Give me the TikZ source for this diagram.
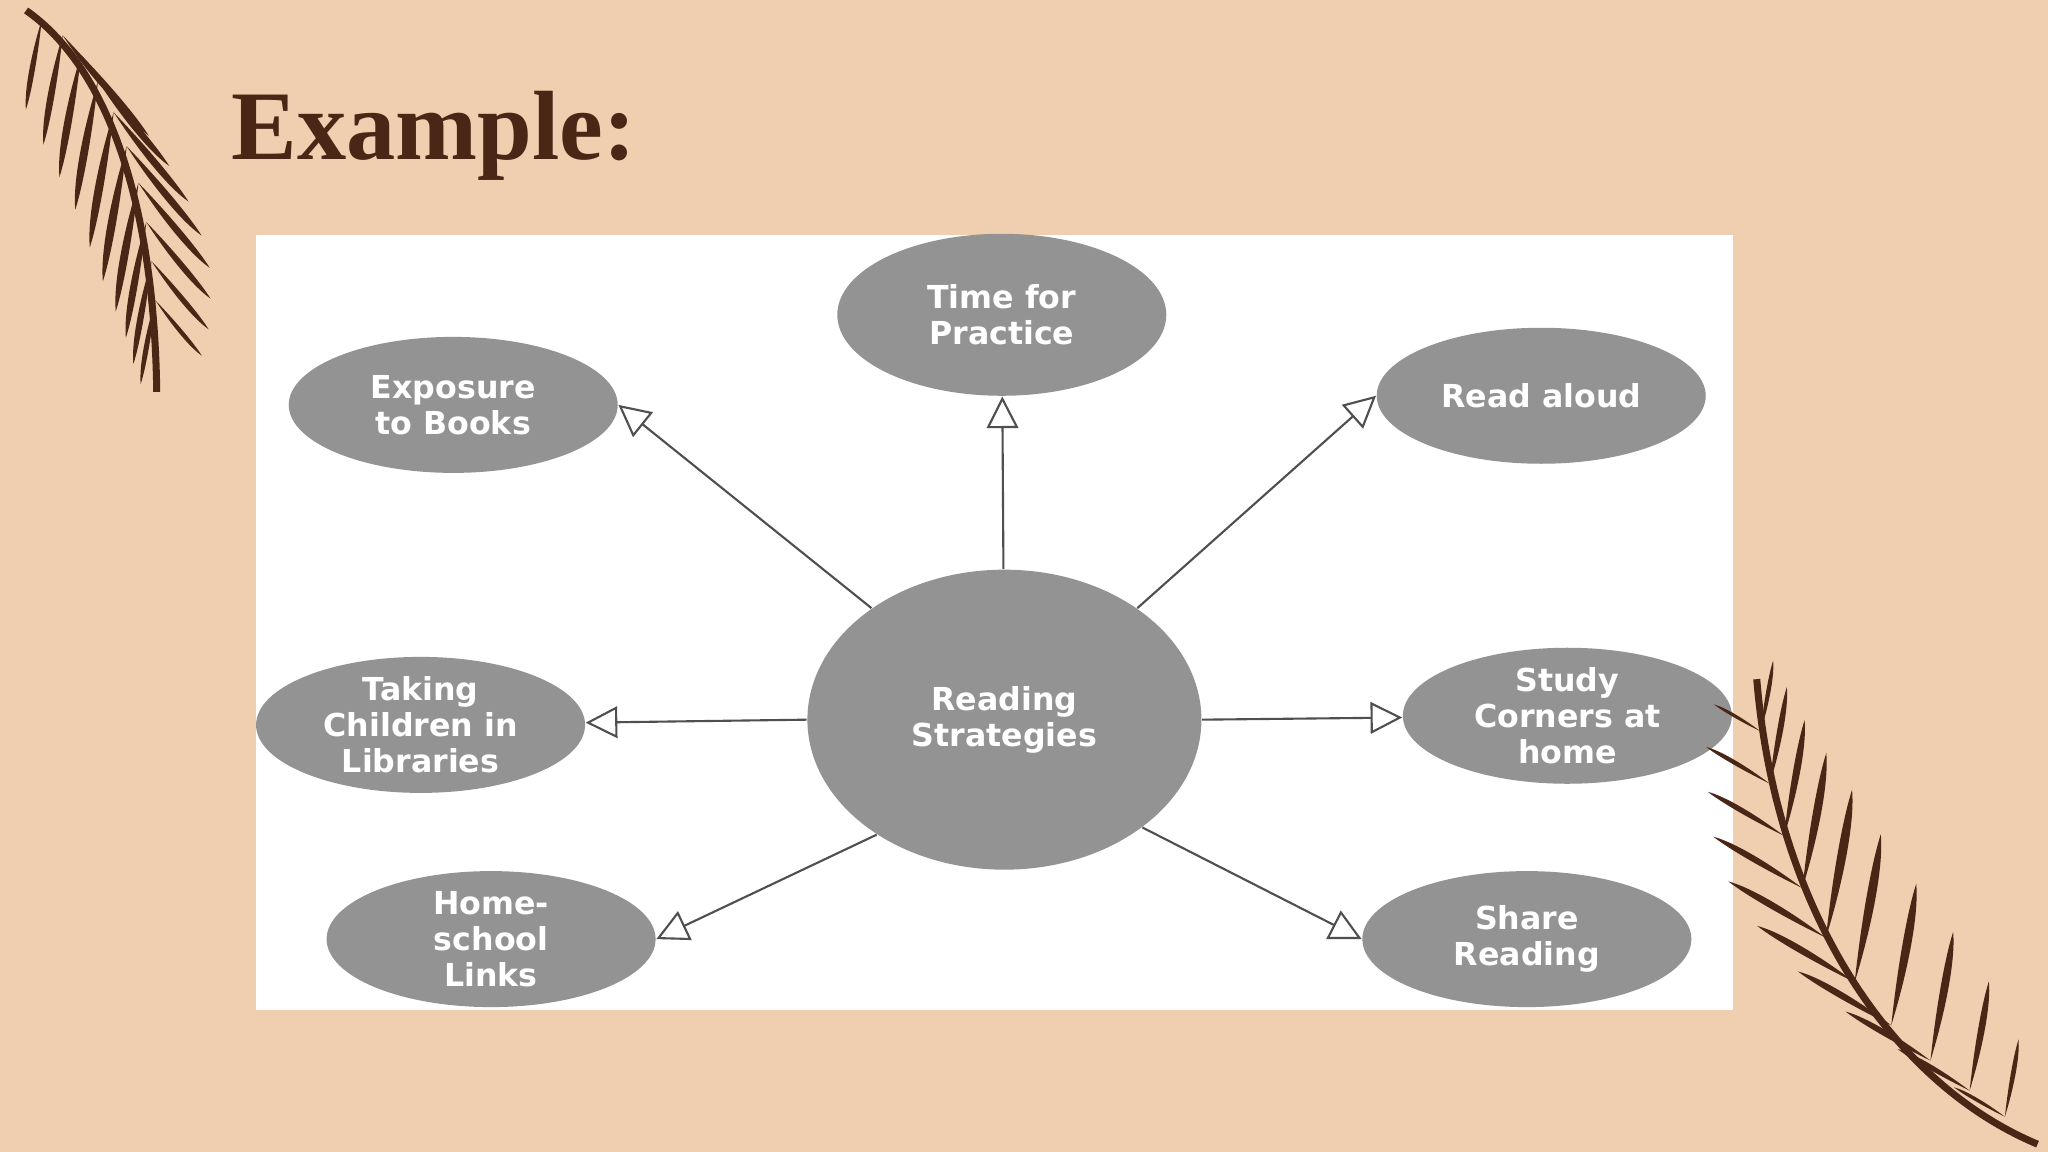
\documentclass[tikz,border=0pt]{standalone}
\usepackage{fontspec}
\setmainfont{Liberation Serif}
\newfontfamily\boxfont{DejaVu Sans}
\usetikzlibrary{shapes.geometric,arrows.meta,calc}
\definecolor{bgc}{HTML}{EFCFAF}
\definecolor{brownc}{HTML}{4A2616}
\definecolor{bubble}{HTML}{939393}
\definecolor{linec}{HTML}{4F4F4F}
\newcommand\leafat[3]{%
  \pgfmathsetmacro\lA{0.4*#3}\pgfmathsetmacro\lB{0.8*#3}\pgfmathsetmacro\lC{#3}%
  \fill[brownc] (#1) .. controls ($(#1)+(#2+7:\lA)$) and ($(#1)+(#2+4:\lB)$) .. ($(#1)+(#2:\lC)$)
     .. controls ($(#1)+(#2-2:\lB)$) and ($(#1)+(#2-4:\lA)$) .. (#1);}
\begin{document}
\begin{tikzpicture}[x=0.01306cm,y=-0.01306cm,
  bub/.style={ellipse, fill=bubble, text=white, font=\boxfont\bfseries\fontsize{9}{10.2}\selectfont, align=center, inner sep=0pt, minimum width=3.29cm, minimum height=1.36cm},
  arr/.style={draw=linec, line width=0.6pt, -{Triangle[open, length=9pt, width=9pt]}}]
\useasboundingbox (0,0) rectangle (1568,882);
\fill[bgc] (0,0) rectangle (1568,882);
\node[anchor=west, text=brownc, font=\bfseries\fontsize{28}{32}\selectfont] (title) at (168,104) {Example:};
\fill[white] (196,180) rectangle (1327,773);
\node[bub, minimum width=3.94cm, minimum height=3.0cm] (c) at (769,551) {Reading\\Strategies};
\node[bub, minimum height=1.62cm] (t) at (767,241) {Time for\\Practice};
\node[bub] (e) at (347,310) {Exposure\\to Books};
\node[bub] (r) at (1180,303) {Read aloud};
\node[bub] (l) at (322,555) {Taking\\Children in\\Libraries};
\node[bub] (s) at (1200,548) {Study\\Corners at\\home};
\node[bub] (h) at (376,719) {Home-\\school\\Links};
\node[bub] (sh) at (1169,719) {Share\\Reading};
\draw[arr] (c) -- (t);
\draw[arr] (c.140) -- (e.east);
\draw[arr] (c.40) -- (r.west);
\draw[arr] (c.180) -- (l);
\draw[arr] (c.0) -- (s);
\draw[arr] (c.222) -- (h.east);
\draw[arr] (c.-38) -- (sh.west);
% top-left frond
\draw[brownc, line width=2pt] (20,8) .. controls (80,50) and (118,150) .. (120,300);
\foreach \x/\y/\L in {32/15/70, 48/27/85, 62/42/95, 75/62/100, 87/86/105, 97/112/105, 106/140/100, 112/170/90, 116/200/80, 119/230/65}{
  \leafat{\x,\y}{100}{\L}
  \leafat{\x,\y}{50}{0.85*\L}
}
% bottom-right frond
\draw[brownc, line width=2pt] (1560,876) .. controls (1450,830) and (1360,700) .. (1345,520);
\foreach \x/\y/\L in {1348/560/55, 1355/600/75, 1366/640/90, 1380/680/105, 1398/718/115, 1420/752/115, 1448/785/110, 1478/812/100, 1508/835/85, 1535/855/60}{
  \leafat{\x,\y}{-80}{\L}
  \leafat{\x,\y}{-150}{0.75*\L}
}
\end{tikzpicture}
\end{document}
